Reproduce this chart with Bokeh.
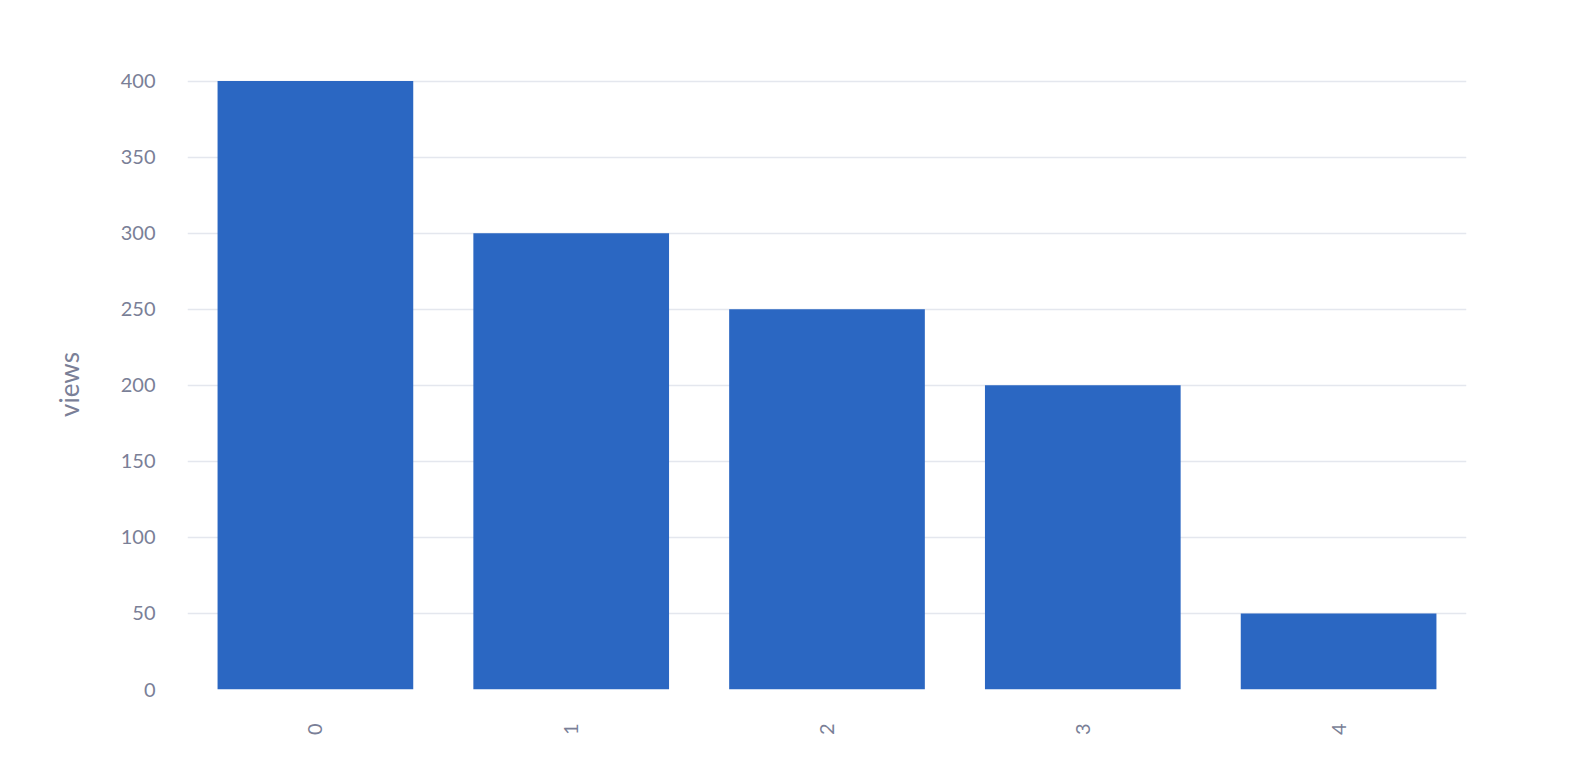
from math import pi

from bokeh.embed import file_html
from bokeh.models import ColumnDataSource, FactorRange, Range1d, SingleIntervalTicker
from bokeh.plotting import figure
from bokeh.resources import INLINE

# chart data
categories = ["0", "1", "2", "3", "4"]
views = [400, 300, 250, 200, 50]

BAR_COLOR = "#2b67c2"
TEXT_COLOR = "#7a7f97"
GRID_COLOR = "#e4e7ee"
FONT = "Lato"

source = ColumnDataSource(data=dict(cat=categories, views=views))

# y end a touch above 400 so the top grid line is not clipped
p = figure(x_range=FactorRange(*categories, range_padding=0),
           y_range=Range1d(0, 401),
           width=1580, height=762,
           min_border_left=187, min_border_right=114,
           min_border_top=79, min_border_bottom=73,
           output_backend="svg", toolbar_location=None)

# bars
p.vbar(x="cat", top="views", width=0.765, source=source,
       fill_color=BAR_COLOR, line_color=None)

p.outline_line_color = None
p.xgrid.grid_line_color = None
p.ygrid.grid_line_color = GRID_COLOR
p.ygrid.grid_line_width = 1.5
p.ygrid.level = "underlay"

# y axis
p.yaxis.ticker = SingleIntervalTicker(interval=50)
p.yaxis.axis_label = "views"
p.yaxis.axis_label_text_font = FONT
p.yaxis.axis_label_text_font_style = "normal"
p.yaxis.axis_label_text_font_size = "26px"
p.yaxis.axis_label_text_color = TEXT_COLOR
p.yaxis.axis_label_standoff = 33

# both axes: no lines or ticks
for ax in (p.xaxis, p.yaxis):
    ax.axis_line_color = None
    ax.major_tick_line_color = None
    ax.minor_tick_line_color = None
    ax.major_tick_out = 0
    ax.major_tick_in = 0
    ax.minor_tick_out = 0
    ax.major_label_text_font = FONT
    ax.major_label_text_font_size = "20px"
    ax.major_label_text_color = TEXT_COLOR

p.yaxis.major_label_standoff = 32
p.xaxis.major_label_standoff = 34
p.xaxis.major_label_orientation = pi / 2

open("out.html", "w").write(file_html(p, INLINE))
